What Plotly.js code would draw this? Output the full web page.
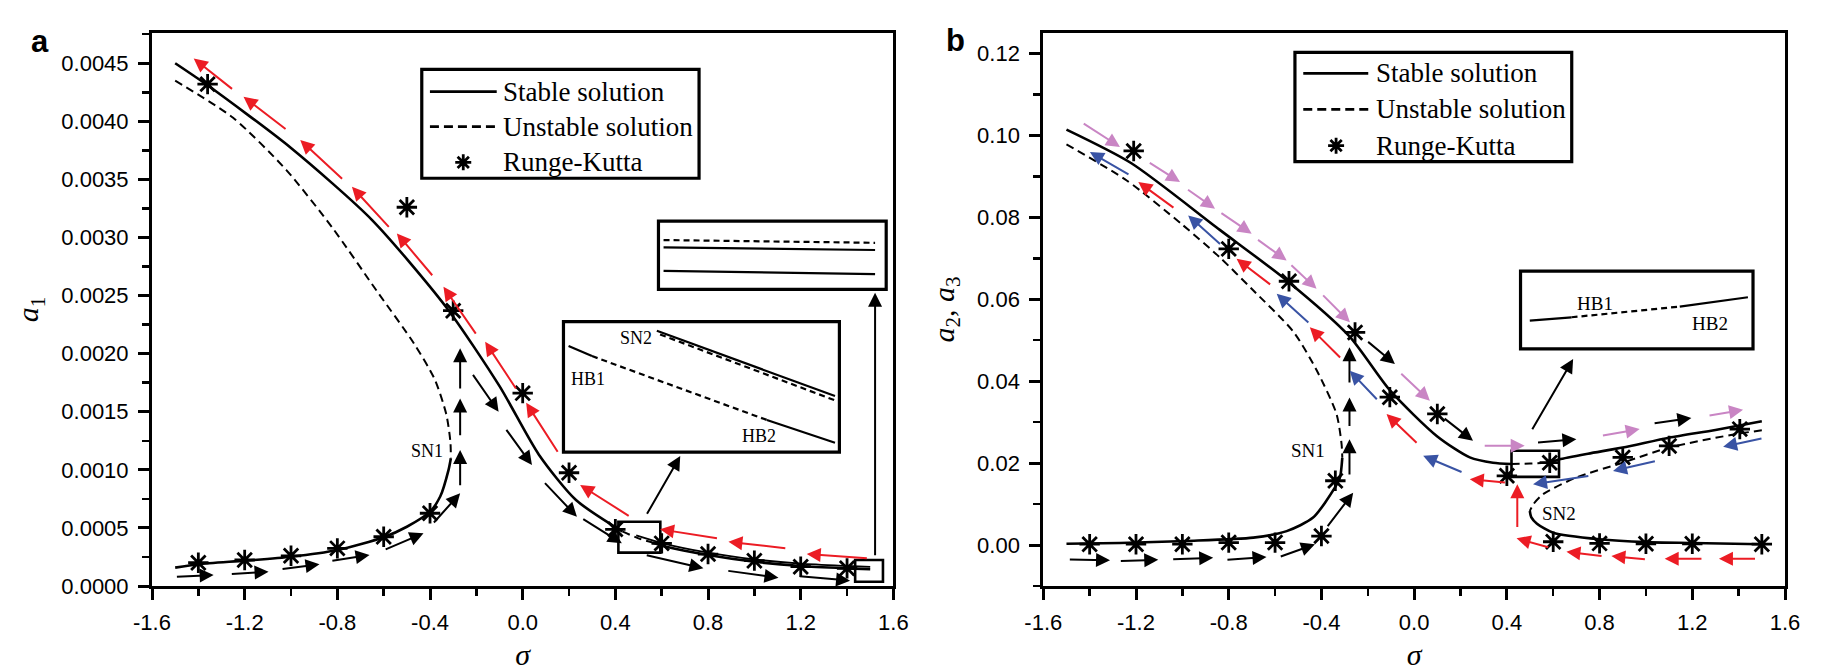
<!DOCTYPE html>
<html><head><meta charset="utf-8">
<script src="https://cdn.plot.ly/plotly-3.0.1.min.js"></script>
<style>html,body{margin:0;padding:0;background:#fff}#chart{width:1830px;height:671px}</style>
</head><body><div id="chart"></div>
<script>
// ================= Panel a (a1 vs sigma) =================
const aStableX = [-1.5, -1.36, -1.0, -0.65, -0.33, -0.1, 0.07, 0.23, 0.43];
const aStableY = [0.00450, 0.00431, 0.00377, 0.00315, 0.00240, 0.00172, 0.00113, 0.00074, 0.00047];
const aHBX = [0.43, 0.5, 0.56];
const aHBY = [0.00047, 0.00041, 0.000375];
const aStable2X = [0.56, 0.62, 0.8, 1.0, 1.2, 1.4, 1.5];
const aStable2Y = [0.000375, 0.000338, 0.000267, 0.000209, 0.000172, 0.000152, 0.000144];
const aSN2X = [0.49, 0.6, 0.8, 1.0, 1.2, 1.4, 1.5];
const aSN2Y = [0.000435, 0.00037, 0.000287, 0.000229, 0.000192, 0.000172, 0.000164];
const aUnstableX = [-1.5, -1.25, -1.02, -0.82, -0.63, -0.47, -0.38, -0.33, -0.312, -0.31];
const aUnstableY = [0.00435, 0.00403, 0.00358, 0.00308, 0.00254, 0.00209, 0.00178, 0.00148, 0.00124, 0.00110];
const aLowerX = [-0.31, -0.32, -0.356, -0.4, -0.5, -0.6, -0.8, -1.0, -1.2, -1.4, -1.5];
const aLowerY = [0.00110, 0.00100, 0.00077, 0.00064, 0.00051, 0.00042, 0.00031, 0.000252, 0.000218, 0.000187, 0.000158];
const aRKX = [-1.36, -0.5, -0.3, 0.0, 0.2, 0.4, 0.6, 0.8, 1.0, 1.2, 1.4, -1.4, -1.2, -1.0, -0.8, -0.6, -0.4];
const aRKY = [0.00432, 0.00326, 0.00237, 0.00166, 0.000975, 0.000488, 0.000367, 0.000275, 0.000218, 0.000166, 0.000152, 0.0002, 0.000224, 0.00026, 0.000324, 0.000424, 0.000626];
// arrows: [tailX, tailY, headX, headY]
const aRedArrows = [
  [-1.248,0.004269,-1.420,0.004541],[-1.017,0.003924,-1.205,0.004211],[-0.773,0.003494,-0.960,0.003838],
  [-0.572,0.003078,-0.737,0.003436],[-0.385,0.002662,-0.543,0.003035],[-0.198,0.002160,-0.342,0.002576],
  [-0.025,0.001687,-0.162,0.002102],[0.155,0.001142,0.015,0.001577],[0.464,0.000596,0.248,0.000869],
  [0.845,0.000410,0.593,0.000488],[1.140,0.000324,0.888,0.000381],[1.492,0.000238,1.226,0.000275]];
const aBlackArrows = [
  [-1.499,0.000080,-1.334,0.000095],[-1.262,0.000103,-1.097,0.000123],[-1.043,0.000144,-0.877,0.000187],
  [-0.828,0.000215,-0.661,0.000267],[-0.598,0.000310,-0.428,0.000454],[-0.389,0.000534,-0.270,0.000798],
  [-0.270,0.000855,-0.270,0.001170],[-0.270,0.001285,-0.270,0.001615],[-0.270,0.001687,-0.270,0.002046],
  [-0.219,0.001830,-0.104,0.001500],[-0.075,0.001357,0.040,0.001041],[0.090,0.000898,0.234,0.000596],
  [0.255,0.000583,0.428,0.000367],[0.529,0.000267,0.780,0.000152],[0.881,0.000132,1.104,0.000071],
  [1.190,0.000086,1.413,0.000046]];
const aZoomArrows = [[0.533,0.000608,0.680,0.001119],[1.521,0.000252,1.521,0.002524]];
const aSmallBoxes = [[0.413,0.000287,0.594,0.000553],[1.435,0.000037,1.555,0.000224]];
const aInsetBoxes = [[0.176,0.001153,1.367,0.002275],[0.586,0.002553,1.569,0.003141]];
// inset contents [x0,y0,x1,y1,dashed]
const aInsetLines = [
  [0.198,0.002065,0.299,0.001979,0],[0.299,0.001979,1.054,0.001429,1],[1.054,0.001429,1.348,0.001233,0],
  [0.579,0.002197,1.348,0.001635,0],[0.593,0.002165,1.348,0.001598,1],
  [0.608,0.002978,1.521,0.002954,1],[0.608,0.002915,1.521,0.002892,0],[0.608,0.002713,1.521,0.002685,0]];
const aLabels = [['SN1',-0.413,0.001164],['SN2',0.49,0.002132],['HB1',0.28,0.001781],['HB2',1.022,0.001291]];

// ================= Panel b (a2, a3 vs sigma) =================
const bStableX = [-1.5, -1.22, -0.84, -0.55, -0.28, -0.105, 0.1, 0.24, 0.34, 0.42];
const bStableY = [0.1014, 0.0932, 0.0770, 0.0646, 0.0510, 0.0378, 0.0265, 0.0214, 0.0201, 0.0198];
const bHBX = [0.42, 0.5, 0.58];
const bHBY = [0.0198, 0.0199, 0.0201];
const bStable2X = [0.58, 0.625, 0.75, 0.9, 1.1, 1.3, 1.5];
const bStable2Y = [0.0201, 0.0209, 0.0223, 0.0238, 0.0262, 0.0281, 0.0302];
const bUnstableX = [-1.5, -1.24, -1.0, -0.84, -0.7, -0.52, -0.42, -0.335, -0.313, -0.31];
const bUnstableY = [0.0978, 0.0890, 0.0782, 0.0703, 0.0625, 0.0520, 0.0426, 0.0320, 0.0246, 0.0213];
const bLowerX = [-0.31, -0.32, -0.342, -0.436, -0.55, -0.694, -0.982, -1.269, -1.5];
const bLowerY = [0.0213, 0.0165, 0.0140, 0.0067, 0.0034, 0.0018, 0.0010, 0.0005, 0.0003];
const bUnstable2X = [1.5, 1.39, 1.1, 0.9, 0.7, 0.556, 0.515, 0.499];
const bUnstable2Y = [0.0280, 0.0271, 0.0238, 0.0201, 0.0165, 0.0124, 0.0100, 0.0083];
const bLower2X = [0.499, 0.505, 0.53, 0.6, 0.8, 1.0, 1.2, 1.5];
const bLower2Y = [0.0083, 0.0068, 0.0052, 0.0030, 0.0014, 0.0007, 0.0005, 0.0002];
const bRKX = [-1.21, -0.8, -0.54, -0.255, -0.105, 0.1, 0.4, 0.585, 0.9, 1.1, 1.405, -1.4, -1.2, -1.0, -0.8, -0.6, -0.4, -0.34, 0.6, 0.8, 1.0, 1.2, 1.5];
const bRKY = [0.0962, 0.0723, 0.0644, 0.0519, 0.0361, 0.0320, 0.0169, 0.0201, 0.0214, 0.0242, 0.0283, 0.0002, 0.0002, 0.0002, 0.0006, 0.0006, 0.0022, 0.0157, 0.0008, 0.0004, 0.0003, 0.0003, 0.0002];
const bPinkArrows = [
  [-1.432,0.1031,-1.269,0.09718],[-1.147,0.09351,-1.010,0.08862],[-0.982,0.08700,-0.859,0.08211],
  [-0.838,0.08128,-0.701,0.07600],[-0.680,0.07477,-0.550,0.06947],[-0.536,0.06866,-0.421,0.06254],
  [-0.399,0.06132,-0.277,0.05437],[-0.062,0.04214,0.068,0.03522],[0.298,0.02422,0.477,0.02422],
  [0.808,0.02666,0.973,0.02830],[1.268,0.03155,1.419,0.03302]];
const bBlackArrows = [
  [-1.492,-0.0035,-1.312,-0.00374],[-1.272,-0.00391,-1.104,-0.0036],[-1.046,-0.0035,-0.867,-0.00311],
  [-0.812,-0.0036,-0.637,-0.00294],[-0.582,-0.00294,-0.428,0.00017],[-0.378,0.00423,-0.263,0.01279],
  [-0.279,0.01688,-0.279,0.02585],[-0.279,0.02869,-0.279,0.03603],[-0.279,0.03931,-0.279,0.04826],
  [-0.205,0.0499,-0.083,0.0442],[0.125,0.03114,0.254,0.02544],[0.528,0.02502,0.700,0.02585],
  [1.031,0.02967,1.196,0.03099]];
const bBlueArrows = [
  [-1.226,0.09026,-1.399,0.09596],[-0.831,0.07314,-0.975,0.08047],[-0.450,0.05398,-0.593,0.06132],
  [-0.155,0.03522,-0.278,0.04256],[0.211,0.01768,0.039,0.02177],[0.758,0.01688,0.513,0.01485],
  [1.045,0.02055,0.858,0.01810],[1.505,0.02610,1.333,0.02397]];
const bRedArrows = [
  [-1.032,0.08211,-1.190,0.08862],[-0.615,0.06335,-0.766,0.06988],[-0.313,0.04542,-0.450,0.05315],
  [0.017,0.02463,-0.119,0.03197],[0.398,0.01524,0.240,0.01607],[0.445,0.00404,0.445,0.01485],
  [0.585,-0.00066,0.442,0.00164],[0.815,-0.00269,0.657,-0.00164],[1.002,-0.0035,0.851,-0.00269],
  [1.246,-0.00335,1.081,-0.00335],[1.477,-0.00335,1.315,-0.00335]];
const bZoomArrows = [[0.506,0.02788,0.686,0.04542]];
const bSmallBoxes = [[0.42,0.01663,0.625,0.0230]];
const bInsetBoxes = [[0.459,0.04787,1.462,0.06685]];
const bInsetLines = [[0.499,0.05479,0.679,0.0556,0],[0.679,0.0556,1.146,0.05821,1],[1.146,0.05821,1.440,0.06049,0]];
const bLabels = [['SN1',-0.457,0.0230],['SN2',0.625,0.00766],['HB1',0.779,0.05902],['HB2',1.275,0.05413]];

// ticks and legend texts
const xTickVals = [-1.6, -1.2, -0.8, -0.4, 0.0, 0.4, 0.8, 1.2, 1.6];
const xTickText = ['-1.6', '-1.2', '-0.8', '-0.4', '0.0', '0.4', '0.8', '1.2', '1.6'];
const legendLabels = ['Stable solution', 'Unstable solution', 'Runge-Kutta'];

// ================= colours / styles =================
const RED = '#ec1c24', PINK = '#c985c4', BLUE = '#3953a4', BLACK = '#000';
const SERIF = 'Liberation Serif, Times New Roman, serif';
const SANS = 'Liberation Sans, Arial, sans-serif';

function line(x, y, xa, ya, dashed, w) {
  return {x: x, y: y, xaxis: xa, yaxis: ya, mode: 'lines', type: 'scatter', showlegend: false, hoverinfo: 'skip',
    line: {color: BLACK, width: w || (dashed ? 2 : 2.6), dash: dashed ? '8px,5px' : 'solid', shape: 'spline', smoothing: 0.7}};
}
function stars(x, y, xa, ya) {
  return {x: x, y: y, xaxis: xa, yaxis: ya, mode: 'markers', type: 'scatter', showlegend: false, hoverinfo: 'skip',
    marker: {symbol: 'asterisk-open', size: 17, color: BLACK, line: {color: BLACK, width: 2.8}}};
}
function insetTraces(list, xa, ya) {
  return list.map(s => ({x: [s[0], s[2]], y: [s[1], s[3]], xaxis: xa, yaxis: ya, mode: 'lines', type: 'scatter',
    showlegend: false, hoverinfo: 'skip', line: {color: BLACK, width: 2.2, dash: s[4] ? '6px,4px' : 'solid'}}));
}
function arrows(list, color, xr, yr) {
  return list.map(a => ({x: a[2], y: a[3], ax: a[0], ay: a[1], xref: xr, yref: yr, axref: xr, ayref: yr,
    showarrow: true, arrowhead: 2, arrowsize: 1.4, arrowwidth: 2, arrowcolor: color, text: '', standoff: 0, startstandoff: 0}));
}
function boxes(list, xr, yr, w) {
  return list.map(b => ({type: 'rect', xref: xr, yref: yr, x0: b[0], y0: b[1], x1: b[2], y1: b[3],
    line: {color: BLACK, width: w}, fillcolor: 'rgba(0,0,0,0)', layer: 'above'}));
}
function labels(list, xr, yr, size) {
  return list.map(l => ({text: l[0], x: l[1], y: l[2], xref: xr, yref: yr, showarrow: false,
    xanchor: 'center', yanchor: 'middle', font: {family: SERIF, size: size, color: BLACK}}));
}

const traces = [
  line(aStableX, aStableY, 'x', 'y', false),
  line(aHBX, aHBY, 'x', 'y', true),
  line(aStable2X, aStable2Y, 'x', 'y', false),
  line(aSN2X, aSN2Y, 'x', 'y', false, 1.8),
  line(aUnstableX, aUnstableY, 'x', 'y', true),
  line(aLowerX, aLowerY, 'x', 'y', false),
  ...insetTraces(aInsetLines, 'x', 'y'),
  stars(aRKX, aRKY, 'x', 'y'),
  line(bStableX, bStableY, 'x2', 'y2', false),
  line(bHBX, bHBY, 'x2', 'y2', true),
  line(bStable2X, bStable2Y, 'x2', 'y2', false),
  line(bUnstableX, bUnstableY, 'x2', 'y2', true),
  line(bLowerX, bLowerY, 'x2', 'y2', false),
  line(bUnstable2X, bUnstable2Y, 'x2', 'y2', true),
  line(bLower2X, bLower2Y, 'x2', 'y2', false),
  ...insetTraces(bInsetLines, 'x2', 'y2'),
  stars(bRKX, bRKY, 'x2', 'y2')
];

// ---------- legends drawn in paper space ----------
const M = {l: 152, r: 45, t: 33, b: 85};
const PW = 1830 - M.l - M.r, PH = 671 - M.t - M.b;
function legend(box, rowsY, lineX, starX, textX) {
  const sh = [{type: 'rect', xref: 'paper', yref: 'paper', x0: box[0], y0: box[1], x1: box[2], y1: box[3],
    line: {color: BLACK, width: 3.2}, fillcolor: 'white', layer: 'above'}];
  sh.push({type: 'line', xref: 'paper', yref: 'paper', x0: lineX[0], x1: lineX[1], y0: rowsY[0], y1: rowsY[0], line: {color: BLACK, width: 2.8}});
  sh.push({type: 'line', xref: 'paper', yref: 'paper', x0: lineX[0], x1: lineX[1], y0: rowsY[1], y1: rowsY[1], line: {color: BLACK, width: 2.8, dash: '9px,5px'}});
  const rx = 8 / PW, ry = 8 / PH, dx = 0.707 * rx, dy = 0.707 * ry, cy = rowsY[2];
  const p = `M${starX - rx},${cy}L${starX + rx},${cy}M${starX},${cy - ry}L${starX},${cy + ry}` +
            `M${starX - dx},${cy - dy}L${starX + dx},${cy + dy}M${starX - dx},${cy + dy}L${starX + dx},${cy - dy}`;
  sh.push({type: 'path', xref: 'paper', yref: 'paper', path: p, line: {color: BLACK, width: 2.8}});
  const an = legendLabels.map((t, i) => ({text: t, x: textX, y: rowsY[i], xref: 'paper', yref: 'paper', showarrow: false,
    xanchor: 'left', yanchor: 'middle', font: {family: SERIF, size: 27, color: BLACK}}));
  return {sh: sh, an: an};
}
const legA = legend([0.1652, 0.7373, 0.3350, 0.9344], [0.8939, 0.8306, 0.7662], [0.1702, 0.2111], 0.1906, 0.2137);
const legB = legend([0.6999, 0.7673, 0.8694, 0.9651], [0.9271, 0.8620, 0.7962], [0.7050, 0.7448], 0.7251, 0.7481);

const shapes = [
  ...boxes(aSmallBoxes, 'x', 'y', 2.6), ...boxes(aInsetBoxes, 'x', 'y', 3.2),
  ...boxes(bSmallBoxes, 'x2', 'y2', 2.6), ...boxes(bInsetBoxes, 'x2', 'y2', 3.2),
  ...legA.sh, ...legB.sh
];

const annotations = [
  ...arrows(aRedArrows, RED, 'x', 'y'), ...arrows(aBlackArrows, BLACK, 'x', 'y'), ...arrows(aZoomArrows, BLACK, 'x', 'y'),
  ...arrows(bPinkArrows, PINK, 'x2', 'y2'), ...arrows(bBlackArrows, BLACK, 'x2', 'y2'), ...arrows(bBlueArrows, BLUE, 'x2', 'y2'),
  ...arrows(bRedArrows, RED, 'x2', 'y2'), ...arrows(bZoomArrows, BLACK, 'x2', 'y2'),
  ...labels(aLabels, 'x', 'y', 18), ...labels(bLabels, 'x2', 'y2', 19),
  ...legA.an, ...legB.an,
  {text: '<b>a</b>', x: -0.0686, y: 0.984, xref: 'paper', yref: 'paper', showarrow: false, xanchor: 'center', yanchor: 'middle', font: {family: SANS, size: 31, color: BLACK}},
  {text: '<b>b</b>', x: 0.4923, y: 0.987, xref: 'paper', yref: 'paper', showarrow: false, xanchor: 'center', yanchor: 'middle', font: {family: SANS, size: 31, color: BLACK}}
];

const tickFont = {family: SANS, size: 22, color: BLACK};
function xAxis(domain, anchor) {
  return {domain: domain, anchor: anchor, range: [-1.6, 1.6], tickvals: xTickVals, ticktext: xTickText,
    ticks: 'outside', ticklen: 11, tickwidth: 3, tickcolor: BLACK, tickfont: tickFont, ticklabelstandoff: 4,
    minor: {ticks: 'outside', ticklen: 7, tickwidth: 2.5, tickcolor: BLACK, dtick: 0.2, tick0: 0, showgrid: false},
    showline: true, linewidth: 3, linecolor: BLACK, mirror: true, showgrid: false, zeroline: false,
    title: {text: 'σ', font: {family: SERIF, size: 30, color: BLACK, style: 'italic'}, standoff: 10}};
}
function yAxis(anchor, range, dtick, minor, fmt, title) {
  return {domain: [0, 1], anchor: anchor, range: range, tick0: 0, dtick: dtick, tickformat: fmt,
    ticks: 'outside', ticklen: 11, tickwidth: 3, tickcolor: BLACK, tickfont: tickFont, ticklabelstandoff: 5,
    minor: {ticks: 'outside', ticklen: 7, tickwidth: 2.5, tickcolor: BLACK, dtick: minor, tick0: 0, showgrid: false},
    showline: true, linewidth: 3, linecolor: BLACK, mirror: true, showgrid: false, zeroline: false,
    title: {text: title, font: {family: SERIF, size: 30, color: BLACK}, standoff: 14}};
}

const layout = {
  width: 1830, height: 671, margin: M, paper_bgcolor: 'white', plot_bgcolor: 'white', showlegend: false,
  xaxis: xAxis([0, 0.454], 'y'),
  yaxis: yAxis('x', [0, 0.00476], 0.0005, 0.00025, '.4f', '<i>a</i><sub>1</sub>'),
  xaxis2: xAxis([0.5458, 1], 'y2'),
  yaxis2: yAxis('x2', [-0.01, 0.125], 0.02, 0.01, '.2f', '<i>a</i><sub>2</sub>, <i>a</i><sub>3</sub>'),
  shapes: shapes, annotations: annotations
};

Plotly.newPlot('chart', traces, layout, {staticPlot: true, displayModeBar: false});
</script>
</body></html>
